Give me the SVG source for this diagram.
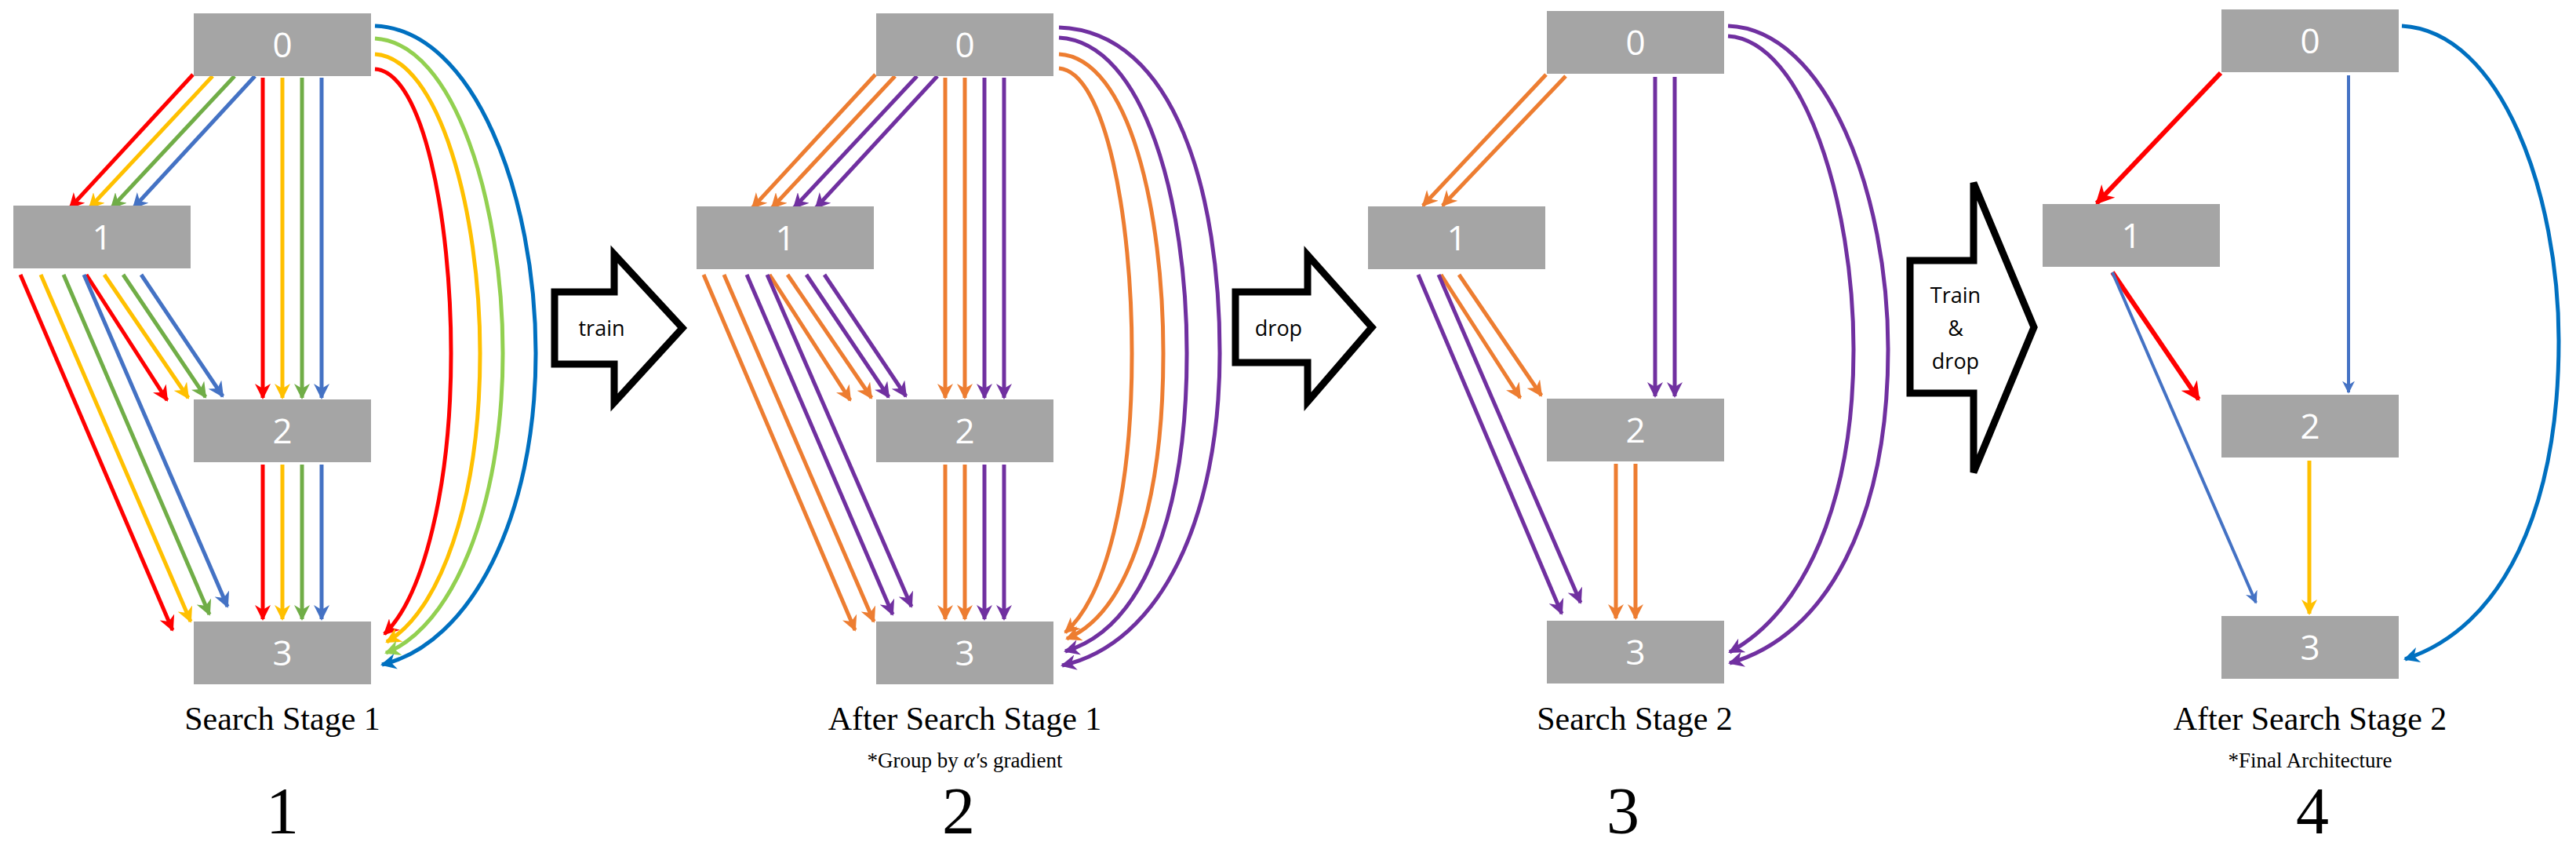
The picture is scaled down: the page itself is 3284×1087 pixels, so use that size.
<svg xmlns="http://www.w3.org/2000/svg" width="3284" height="1087" viewBox="0 0 3284 1087">
<style>
.n rect{fill:#A5A5A5}
.n text{fill:#fff;font-family:"Open Sans","Noto Sans",sans-serif;font-size:44px;text-anchor:middle}
.e path{fill:none;stroke-width:5}
.cap{font-family:"Liberation Serif",serif;text-anchor:middle;fill:#000}
.big{fill:#fff;stroke:#000;stroke-width:9;stroke-linejoin:miter}
.bt{font-family:"Open Sans","Noto Sans",sans-serif;font-size:27px;text-anchor:middle;fill:#000}
.r{stroke:#FF0000;marker-end:url(#mr)}
.y{stroke:#FFC000;marker-end:url(#my)}
.g{stroke:#70AD47;marker-end:url(#mg)}
.b{stroke:#4472C4;marker-end:url(#mb)}
.lg{stroke:#92D050;marker-end:url(#mlg)}
.db{stroke:#0070C0;marker-end:url(#mdb)}
.o{stroke:#ED7D31;marker-end:url(#mo)}
.p{stroke:#7030A0;marker-end:url(#mp)}
</style>
<defs>
<marker id="mr" viewBox="0 0 10 10" refX="9" refY="5" markerWidth="4" markerHeight="4" orient="auto"><path d="M0,0L10,5L0,10L3,5z" fill="#FF0000"/></marker>
<marker id="my" viewBox="0 0 10 10" refX="9" refY="5" markerWidth="4" markerHeight="4" orient="auto"><path d="M0,0L10,5L0,10L3,5z" fill="#FFC000"/></marker>
<marker id="mg" viewBox="0 0 10 10" refX="9" refY="5" markerWidth="4" markerHeight="4" orient="auto"><path d="M0,0L10,5L0,10L3,5z" fill="#70AD47"/></marker>
<marker id="mb" viewBox="0 0 10 10" refX="9" refY="5" markerWidth="4" markerHeight="4" orient="auto"><path d="M0,0L10,5L0,10L3,5z" fill="#4472C4"/></marker>
<marker id="mlg" viewBox="0 0 10 10" refX="9" refY="5" markerWidth="4" markerHeight="4" orient="auto"><path d="M0,0L10,5L0,10L3,5z" fill="#92D050"/></marker>
<marker id="mdb" viewBox="0 0 10 10" refX="9" refY="5" markerWidth="4" markerHeight="4" orient="auto"><path d="M0,0L10,5L0,10L3,5z" fill="#0070C0"/></marker>
<marker id="mo" viewBox="0 0 10 10" refX="9" refY="5" markerWidth="4" markerHeight="4" orient="auto"><path d="M0,0L10,5L0,10L3,5z" fill="#ED7D31"/></marker>
<marker id="mp" viewBox="0 0 10 10" refX="9" refY="5" markerWidth="4" markerHeight="4" orient="auto"><path d="M0,0L10,5L0,10L3,5z" fill="#7030A0"/></marker>
</defs>
<rect width="3284" height="1087" fill="#fff"/>

<g id="connectors" class="e">
<!-- Panel 1 -->
<path class="r" d="M246,95L89,265"/><path class="y" d="M271,97L114,265"/><path class="g" d="M299,97L142,265"/><path class="b" d="M325,97L170,265"/>
<path class="r" d="M335,99V507"/><path class="y" d="M360,99V507"/><path class="g" d="M385,99V507"/><path class="b" d="M410,99V507"/>
<path class="r" d="M335,592V789"/><path class="y" d="M360,592V789"/><path class="g" d="M385,592V789"/><path class="b" d="M410,592V789"/>
<path class="r" d="M110,350L213,510"/><path class="y" d="M133,350L240,507"/><path class="g" d="M157,350L262,506"/><path class="b" d="M180,350L284,505"/>
<path class="r" d="M26,350L220,803"/><path class="y" d="M52,350L243,792"/><path class="g" d="M81,350L267,783"/><path class="b" d="M107,350L290,773"/>
<path class="r" d="M478,88C540,92 575,280 575,450C575,620 540,760 490,808"/>
<path class="y" d="M478,69C560,74 612,270 612,450C612,640 560,780 493,818"/>
<path class="lg" d="M478,49C580,55 641,260 641,450C641,650 575,800 492,832"/>
<path class="db" d="M478,33C605,38 683,250 683,450C683,660 600,820 487,847"/>
<!-- Panel 2 -->
<path class="o" d="M1116,95L959,265"/><path class="o" d="M1141,97L984,265"/><path class="p" d="M1169,97L1012,265"/><path class="p" d="M1195,97L1040,265"/>
<path class="o" d="M1205,99V507"/><path class="o" d="M1230,99V507"/><path class="p" d="M1255,99V507"/><path class="p" d="M1280,99V507"/>
<path class="o" d="M1205,592V789"/><path class="o" d="M1230,592V789"/><path class="p" d="M1255,592V789"/><path class="p" d="M1280,592V789"/>
<path class="o" d="M981,350L1084,510"/><path class="o" d="M1004,350L1111,507"/><path class="p" d="M1028,350L1133,506"/><path class="p" d="M1051,350L1155,505"/>
<path class="o" d="M897,350L1090,803"/><path class="o" d="M923,350L1114,792"/><path class="p" d="M952,350L1138,783"/><path class="p" d="M978,350L1162,773"/>
<path class="o" d="M1350,87C1410,92 1443,280 1443,450C1443,630 1410,760 1358,806"/>
<path class="o" d="M1350,69C1440,74 1483,270 1483,450C1483,640 1440,780 1360,814"/>
<path class="p" d="M1350,48C1460,54 1513,260 1513,450C1513,650 1460,800 1358,830"/>
<path class="p" d="M1350,35C1500,40 1555,250 1555,450C1555,660 1480,820 1354,848"/>
<!-- Panel 3 -->
<path class="o" d="M1971,95L1814,262"/><path class="o" d="M1996,97L1839,262"/>
<path class="p" d="M2110,98V505"/><path class="p" d="M2135,98V505"/>
<path class="o" d="M1837,350L1938,507"/><path class="o" d="M1860,350L1965,504"/>
<path class="p" d="M1808,350L1991,782"/><path class="p" d="M1834,350L2015,768"/>
<path class="o" d="M2060,591V788"/><path class="o" d="M2085,591V788"/>
<path class="p" d="M2203,46C2300,52 2363,260 2363,445C2363,640 2300,780 2205,831"/>
<path class="p" d="M2203,33C2330,38 2407,250 2407,445C2407,660 2330,810 2205,845"/>
<!-- Panel 4 -->
<path class="r" style="stroke-width:6" d="M2831,93L2673,259"/>
<path class="b" style="stroke-width:4" d="M2994,96V500"/>
<path class="r" style="stroke-width:6" d="M2693,347L2803,509"/>
<path class="b" style="stroke-width:4" d="M2693,347L2876,768"/>
<path class="y" style="stroke-width:5" d="M2944,587V782"/>
<path class="db" style="stroke-width:5" d="M3062,33C3190,40 3262,250 3262,434C3262,650 3190,800 3066,840"/>
</g>

<g id="p1n0" class="n"><rect x="247" y="17" width="226" height="80"/><text x="360" y="73">0</text></g>
<g id="p1n1" class="n"><rect x="17" y="262" width="226" height="80"/><text x="130" y="318">1</text></g>
<g id="p1n2" class="n"><rect x="247" y="509" width="226" height="80"/><text x="360" y="565">2</text></g>
<g id="p1n3" class="n"><rect x="247" y="792" width="226" height="80"/><text x="360" y="848">3</text></g>

<g id="p2n0" class="n"><rect x="1117" y="17" width="226" height="80"/><text x="1230" y="73">0</text></g>
<g id="p2n1" class="n"><rect x="888" y="263" width="226" height="80"/><text x="1001" y="319">1</text></g>
<g id="p2n2" class="n"><rect x="1117" y="509" width="226" height="80"/><text x="1230" y="565">2</text></g>
<g id="p2n3" class="n"><rect x="1117" y="792" width="226" height="80"/><text x="1230" y="848">3</text></g>

<g id="p3n0" class="n"><rect x="1972" y="14" width="226" height="80"/><text x="2085" y="70">0</text></g>
<g id="p3n1" class="n"><rect x="1744" y="263" width="226" height="80"/><text x="1857" y="319">1</text></g>
<g id="p3n2" class="n"><rect x="1972" y="508" width="226" height="80"/><text x="2085" y="564">2</text></g>
<g id="p3n3" class="n"><rect x="1972" y="791" width="226" height="80"/><text x="2085" y="847">3</text></g>

<g id="p4n0" class="n"><rect x="2832" y="12" width="226" height="80"/><text x="2945" y="68">0</text></g>
<g id="p4n1" class="n"><rect x="2604" y="260" width="226" height="80"/><text x="2717" y="316">1</text></g>
<g id="p4n2" class="n"><rect x="2832" y="503" width="226" height="80"/><text x="2945" y="559">2</text></g>
<g id="p4n3" class="n"><rect x="2832" y="785" width="226" height="80"/><text x="2945" y="841">3</text></g>

<g id="arrow-train"><path class="big" d="M707,372L783,372L783,324L870,418L783,513L783,464L707,464Z"/><text class="bt" x="767" y="428">train</text></g>
<g id="arrow-drop"><path class="big" d="M1575,372L1667,372L1667,325L1749,417L1667,512L1667,462L1575,462Z"/><text class="bt" x="1630" y="428">drop</text></g>
<g id="arrow-traindrop"><path class="big" d="M2435,332L2516,332L2516,233L2593,417L2516,602L2516,501L2435,501Z"/><text class="bt" x="2493" y="386">Train</text><text class="bt" x="2493" y="428">&amp;</text><text class="bt" x="2493" y="470">drop</text></g>

<g id="captions" class="cap">
<text x="360" y="930" font-size="42">Search Stage 1</text>
<text x="1230" y="930" font-size="42">After Search Stage 1</text>
<text x="1230" y="978" font-size="27">*Group by <tspan font-style="italic">α′</tspan>s gradient</text>
<text x="2084" y="930" font-size="42">Search Stage 2</text>
<text x="2945" y="930" font-size="42">After Search Stage 2</text>
<text x="2945" y="978" font-size="27">*Final Architecture</text>
<text x="360" y="1062" font-size="84">1</text>
<text x="1222" y="1062" font-size="84">2</text>
<text x="2069" y="1062" font-size="84">3</text>
<text x="2948" y="1062" font-size="84">4</text>
</g>
</svg>
